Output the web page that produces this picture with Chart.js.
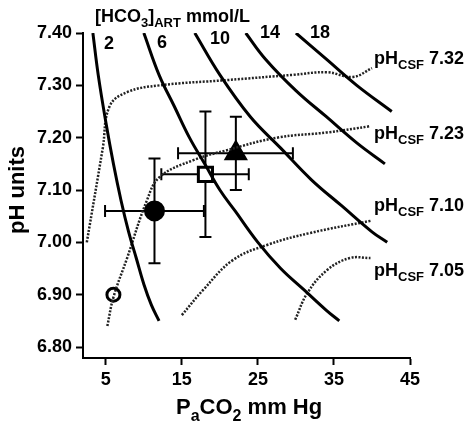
<!DOCTYPE html>
<html>
<head>
<meta charset="utf-8">
<script src="https://cdn.jsdelivr.net/npm/chart.js@4/dist/chart.umd.min.js"></script>
<style>
  body { margin: 0; background: #fff; }
  #wrap { width: 474px; height: 425px; }
</style>
</head>
<body>
<div id="wrap"><canvas id="c"></canvas></div>
<script>
// tick labels
const xTicks = [5, 15, 25, 35, 45];
const yTicks = [6.8, 6.9, 7.0, 7.1, 7.2, 7.3, 7.4];

// bicarbonate isopleths [HCO3]ART (x = PaCO2, y = pH)
const isoLabels = ["2", "6", "10", "14", "18"];
const iso2 = [[3.3,7.40],[4,7.32],[5,7.23],[6,7.15],[7,7.08],[8,7.02],[9,6.97],[10,6.92],[11,6.88],[12,6.85]];
const iso6 = [[10,7.40],[12,7.32],[14,7.26],[16,7.20],[18,7.15],[20,7.10],[22,7.06],[25,7.00],[28,6.95],[31,6.91],[34,6.87],[35.7,6.85]];
const iso10 = [[16.7,7.40],[20,7.32],[24,7.24],[28,7.18],[32,7.12],[36,7.07],[40,7.02],[42,7.00]];
const iso14 = [[23.4,7.40],[26,7.35],[30,7.29],[34,7.24],[38,7.19],[41.7,7.15]];
const iso18 = [[30,7.40],[34,7.35],[38,7.30],[42.6,7.25]];

// pH CSF curves (dotted)
const csfLabels = ["7.32", "7.23", "7.10", "7.05"];
const csf732 = [[2.5,7.00],[4.6,7.18],[5.5,7.26],[7.8,7.287],[12.1,7.30],[20.9,7.31],[29.6,7.32],[34.1,7.325],[37.5,7.316],[40,7.333]];
const csf723 = [[5.2,6.84],[6,6.895],[7.8,6.97],[10.4,7.08],[12.1,7.125],[16.5,7.157],[20.9,7.176],[27.5,7.20],[34.1,7.21],[39.8,7.222]];
const csf710 = [[15,6.861],[17.8,6.909],[21.7,6.966],[26.2,6.995],[31.9,7.018],[39.8,7.041]];
const csf705 = [[29.9,6.852],[31.5,6.903],[34.1,6.947],[37.1,6.97],[39.8,6.97]];

// measured points: x, y, xLow, xHigh, yLow, yHigh
const openCircle = [6.0, 6.90];
const filledCircle = [11.4, 7.06, 4.9, 17.9, 6.96, 7.16];
const openSquare = [18.1, 7.13, 12.3, 23.8, 7.01, 7.25];
const filledTriangle = [22.1, 7.17, 14.5, 29.6, 7.10, 7.24];

const toXY = a => a.map(p => ({x: p[0], y: p[1]}));
const FONT = "'Liberation Sans', Arial, sans-serif";

function solid(d) {
  return {data: toXY(d), showLine: true, borderColor: '#000', borderWidth: 3, pointRadius: 0, tension: 0.4, fill: false};
}
function dotted(d) {
  return {data: toXY(d), showLine: true, borderColor: '#222', borderWidth: 2.5, borderDash: [2, 1.5], pointRadius: 0, tension: 0.4, fill: false};
}
function marker(p, style, fillCol, r) {
  return {data: [{x: p[0], y: p[1]}], showLine: false, pointStyle: style, pointRadius: r,
    pointBackgroundColor: fillCol, pointBorderColor: '#000', pointBorderWidth: 3};
}

const errPoints = [filledCircle, openSquare, filledTriangle];

const decor = {
  id: 'decor',
  beforeDatasetsDraw(chart) {
    const ctx = chart.ctx, xs = chart.scales.x, ys = chart.scales.y;
    ctx.save();
    ctx.strokeStyle = '#000';
    ctx.lineWidth = 2;
    const cap = 6;
    errPoints.forEach(p => {
      const px = xs.getPixelForValue(p[0]), py = ys.getPixelForValue(p[1]);
      const x0 = xs.getPixelForValue(p[2]), x1 = xs.getPixelForValue(p[3]);
      const y0 = ys.getPixelForValue(p[4]), y1 = ys.getPixelForValue(p[5]);
      ctx.beginPath();
      ctx.moveTo(x0, py); ctx.lineTo(x1, py);
      ctx.moveTo(x0, py - cap); ctx.lineTo(x0, py + cap);
      ctx.moveTo(x1, py - cap); ctx.lineTo(x1, py + cap);
      ctx.moveTo(px, y0); ctx.lineTo(px, y1);
      ctx.moveTo(px - cap, y0); ctx.lineTo(px + cap, y0);
      ctx.moveTo(px - cap, y1); ctx.lineTo(px + cap, y1);
      ctx.stroke();
    });
    ctx.restore();
  },
  afterDraw(chart) {
    const ctx = chart.ctx;
    ctx.save();
    ctx.fillStyle = '#000';
    ctx.textBaseline = 'alphabetic';
    ctx.textAlign = 'left';
    // write text with subscript pieces: [[text, sub?], ...]
    function rich(parts, x, y, size) {
      parts.forEach(([t, sub]) => {
        ctx.font = 'bold ' + (sub ? Math.round(size * 0.72) : size) + 'px ' + FONT;
        ctx.fillText(t, x, sub ? y + size * 0.3 : y);
        x += ctx.measureText(t).width;
      });
    }
    rich([['[HCO', 0], ['3', 1], [']', 0], ['ART', 1], [' mmol/L', 0]], 95, 22, 18);
    const isoPos = [[104, 49], [157, 48], [210, 44], [260, 38], [310, 38]];
    isoLabels.forEach((t, i) => rich([[t, 0]], isoPos[i][0], isoPos[i][1], 18));
    const csfY = [64, 139, 211, 276];
    csfLabels.forEach((t, i) => rich([['pH', 0], ['CSF', 1], [' ' + t, 0]], 374, csfY[i], 18));
    rich([['P', 0], ['a', 1], ['CO', 0], ['2', 1], [' mm Hg', 0]], 176, 414, 22);
    ctx.translate(24, 190);
    ctx.rotate(-Math.PI / 2);
    ctx.textAlign = 'center';
    ctx.font = 'bold 22px ' + FONT;
    ctx.fillText('pH units', 0, 0);
    ctx.restore();
  }
};

new Chart(document.getElementById('c'), {
  type: 'scatter',
  data: {
    datasets: [
      solid(iso2), solid(iso6), solid(iso10), solid(iso14), solid(iso18),
      dotted(csf732), dotted(csf723), dotted(csf710), dotted(csf705),
      marker(openCircle, 'circle', '#fff', 6.5),
      marker(filledCircle, 'circle', '#000', 9),
      marker(openSquare, 'rect', '#fff', 10),
      marker(filledTriangle, 'triangle', '#000', 11)
    ]
  },
  options: {
    responsive: true,
    maintainAspectRatio: false,
    animation: false,
    layout: {padding: {top: 33, right: 64, left: 0, bottom: 0}},
    plugins: {legend: {display: false}, tooltip: {enabled: false}},
    scales: {
      x: {
        type: 'linear', min: 2, max: 45,
        afterBuildTicks: s => { s.ticks = xTicks.map(v => ({value: v})); },
        afterFit: s => { s.height = 67; },
        grid: {drawOnChartArea: false, color: '#000', tickLength: 7, tickWidth: 2},
        border: {color: '#000', width: 2},
        ticks: {color: '#000', font: {family: FONT, size: 18, weight: 'bold'}, padding: 4, maxRotation: 0}
      },
      y: {
        type: 'linear', min: 6.779, max: 7.4,
        afterBuildTicks: s => { s.ticks = yTicks.map(v => ({value: v})); },
        afterFit: s => { s.width = 83; },
        grid: {drawOnChartArea: false, color: '#000', tickLength: 7, tickWidth: 2},
        border: {color: '#000', width: 2},
        ticks: {color: '#000', font: {family: FONT, size: 18, weight: 'bold'}, padding: 4,
          callback: v => v.toFixed(2)}
      }
    }
  },
  plugins: [decor]
});
</script>
</body>
</html>
